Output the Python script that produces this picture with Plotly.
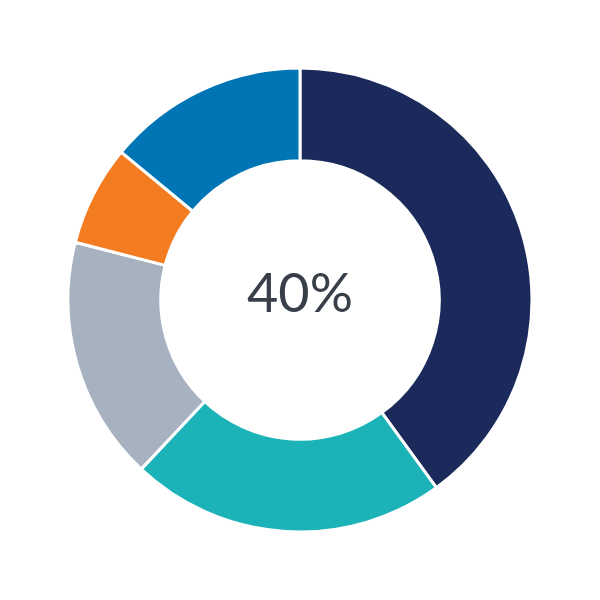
import plotly.graph_objects as go

# 数据
labels = ['A', 'B', 'C', 'D', 'E']
values = [40, 22, 17, 7, 14]
colors = ['#1B2A5A', '#1BB3B7', '#A7B2C1', '#F47C20', '#0075B5']
center_text = '40%'

fig = go.Figure()

# 页面 body 有 8px 边距，所以 domain 往左上挪一点
fig.add_trace(go.Pie(
    labels=labels,
    values=values,
    hole=0.6,
    sort=False,
    direction='clockwise',
    rotation=0,
    textinfo='none',
    hoverinfo='label+percent',
    marker=dict(colors=colors, line=dict(color='white', width=3)),
    domain=dict(x=[0.1, 0.8733], y=[0.1267, 0.9]),
    showlegend=False
))

fig.add_annotation(
    text=center_text, x=0.4867, y=0.527, xref='paper', yref='paper',
    showarrow=False, font=dict(family='Lato', size=54, color='#393f49')
)

fig.update_layout(
    width=600, height=600,
    margin=dict(l=0, r=0, t=0, b=0),
    paper_bgcolor='white',
    plot_bgcolor='white'
)

fig.write_html("out.html")
